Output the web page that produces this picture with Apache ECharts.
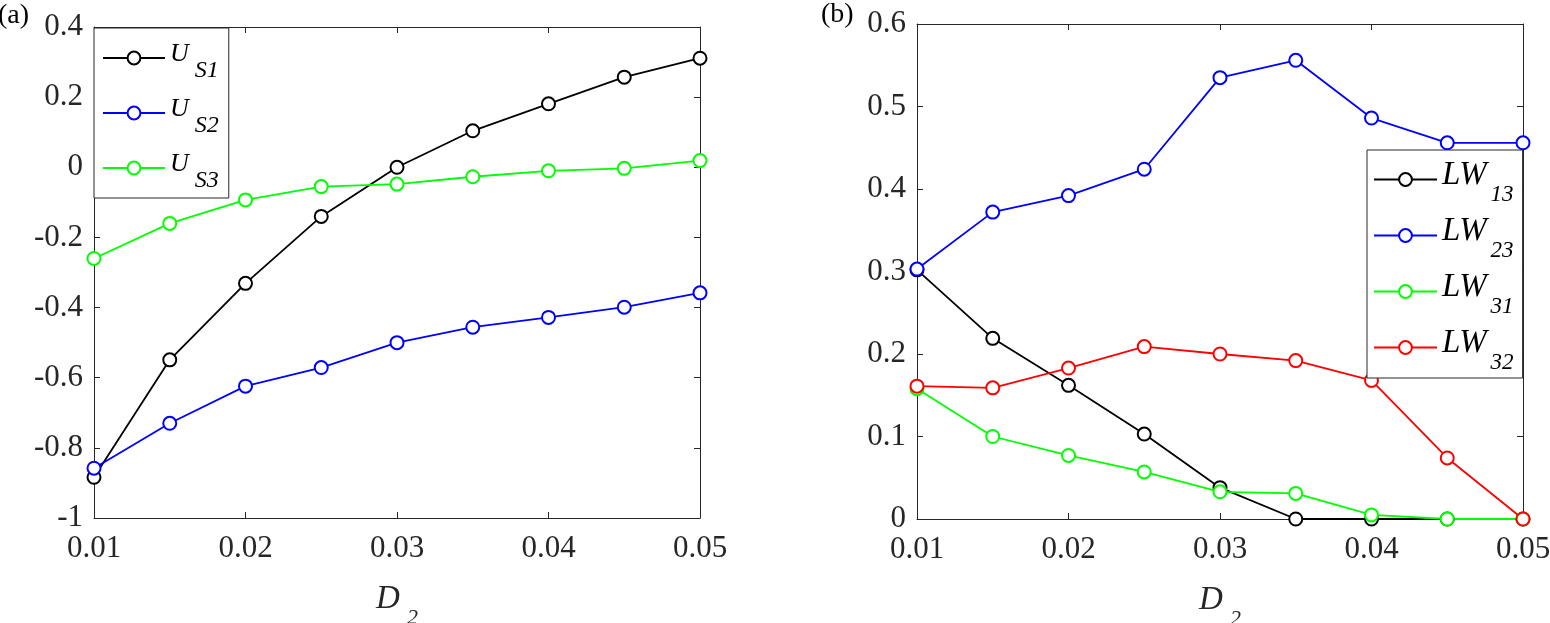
<!DOCTYPE html>
<html>
<head>
<meta charset="utf-8">
<script src="https://cdn.jsdelivr.net/npm/echarts@6/dist/echarts.min.js"></script>
<style>
  html, body { margin: 0; padding: 0; background: #fff; }
  #main { width: 1550px; height: 623px; }
</style>
</head>
<body>
<div id="main"></div>
<script>
// x values (D_2), shared by both panels
const d2 = [0.01, 0.015, 0.02, 0.025, 0.03, 0.035, 0.04, 0.045, 0.05];

// panel (a)
const us1 = [-0.884, -0.549, -0.331, -0.14, 0.0, 0.104, 0.181, 0.257, 0.311];
const us2 = [-0.858, -0.730, -0.624, -0.571, -0.500, -0.456, -0.428, -0.399, -0.358];
const us3 = [-0.260, -0.160, -0.093, -0.055, -0.048, -0.027, -0.010, -0.003, 0.019];

// panel (b)
const lw13 = [0.302, 0.219, 0.162, 0.103, 0.038, 0.0, 0.0, 0.0, 0.0];
const lw23 = [0.303, 0.372, 0.392, 0.424, 0.535, 0.556, 0.486, 0.456, 0.456];
const lw31 = [0.158, 0.100, 0.077, 0.057, 0.033, 0.031, 0.005, 0.0, 0.0];
const lw32 = [0.161, 0.159, 0.183, 0.209, 0.200, 0.192, 0.168, 0.074, 0.0];

const xTicks = { min: 0.01, max: 0.05, interval: 0.01 };
const yTicksA = { min: -1, max: 0.4, interval: 0.2 };
const yTicksB = { min: 0, max: 0.6, interval: 0.1 };

const namesA = { US1: "S1", US2: "S2", US3: "S3" };
const namesB = { LW13: "13", LW23: "23", LW31: "31", LW32: "32" };

const FONT = "Liberation Serif";
const AX = "#262626";

const pairs = (ys) => d2.map((x, i) => [x, ys[i]]);
const fmt = (v) => String(+v.toFixed(2));

function makeSeries(name, ys, color, xi, yi) {
  return {
    name: name,
    type: "line",
    xAxisIndex: xi,
    yAxisIndex: yi,
    data: pairs(ys),
    symbol: "emptyCircle",
    symbolSize: 13,
    clip: false,
    animation: false,
    lineStyle: { color: color, width: 1.8 },
    itemStyle: { color: color, borderColor: color, borderWidth: 1.8 },
  };
}

function axisPair(grid, range, showLabels, pos) {
  // main axis with labels + mirrored axis (MATLAB box style)
  const base = {
    type: "value",
    gridIndex: grid,
    min: range.min,
    max: range.max,
    interval: range.interval,
    axisLine: { show: true, onZero: false, lineStyle: { color: AX, width: 1 } },
    axisTick: { show: true, inside: true, length: 6, lineStyle: { color: AX } },
    splitLine: { show: false },
  };
  return [
    Object.assign({}, base, { position: pos[0], axisLabel: showLabels }),
    Object.assign({}, base, { position: pos[1], axisLabel: { show: false } }),
  ];
}

const xLabel = { show: true, margin: 15, fontFamily: FONT, fontSize: 31, color: AX, formatter: fmt };
const yLabel = { show: true, margin: 11, fontFamily: FONT, fontSize: 31, color: AX, formatter: fmt };

const xNameStyle = {
  rich: {
    d: { fontFamily: FONT, fontSize: 33, fontStyle: "italic", color: AX, lineHeight: 33 },
    s: { fontFamily: FONT, fontSize: 22, fontStyle: "italic", color: AX, lineHeight: 22, padding: [38, 0, 0, 7] },
  },
};

const xa = axisPair(0, xTicks, xLabel, ["bottom", "top"]);
const xb = axisPair(1, xTicks, xLabel, ["bottom", "top"]);
xa[0].name = "{d|D}{s|2}";
xb[0].name = "{d|D}{s|2}";
[xa[0], xb[0]].forEach((a) => {
  a.nameLocation = "middle";
  a.nameGap = 41;
  a.nameTextStyle = xNameStyle;
});

const ya = axisPair(0, yTicksA, yLabel, ["left", "right"]);
const yb = axisPair(1, yTicksB, yLabel, ["left", "right"]);

const myChart = echarts.init(document.getElementById("main"));

const option = {
  backgroundColor: "#fff",
  animation: false,
  title: [
    { text: "(a)", left: -2, top: 2, padding: 0, textStyle: { fontFamily: FONT, fontSize: 28, fontWeight: "normal", color: "#000" } },
    { text: "(b)", left: 821, top: 1, padding: 0, textStyle: { fontFamily: FONT, fontSize: 28, fontWeight: "normal", color: "#000" } },
  ],
  grid: [
    { left: 94, top: 27, width: 606, height: 491, outerBoundsMode: "none" },
    { left: 917, top: 24, width: 606, height: 495, outerBoundsMode: "none" },
  ],
  xAxis: [xa[0], xa[1], xb[0], xb[1]].map((a, i) => Object.assign(a, { gridIndex: i < 2 ? 0 : 1 })),
  yAxis: [ya[0], ya[1], yb[0], yb[1]].map((a, i) => Object.assign(a, { gridIndex: i < 2 ? 0 : 1 })),
  legend: [
    {
      data: Object.keys(namesA),
      orient: "vertical",
      left: 94,
      top: 28,
      padding: [5, 10, 5, 8],
      itemWidth: 62,
      itemHeight: 16,
      itemGap: 5,
      backgroundColor: "#fff",
      borderColor: AX,
      borderWidth: 1,
      formatter: (n) => "{u|U}{s|" + namesA[n] + "}",
      textStyle: {
        rich: {
          u: { fontFamily: FONT, fontSize: 26, fontStyle: "italic", color: "#000", lineHeight: 26, padding: [0, 0, 8, 0] },
          s: { fontFamily: FONT, fontSize: 24, fontStyle: "italic", color: "#000", lineHeight: 24, padding: [26, 0, 0, 6] },
        },
      },
    },
    {
      data: Object.keys(namesB),
      orient: "vertical",
      left: 1367,
      top: 150,
      padding: [3, 9, 4, 6],
      itemWidth: 63,
      itemHeight: 16,
      itemGap: 3,
      backgroundColor: "#fff",
      borderColor: AX,
      borderWidth: 1,
      formatter: (n) => "{u|LW}{s|" + namesB[n] + "}",
      textStyle: {
        rich: {
          u: { fontFamily: FONT, fontSize: 33, fontStyle: "italic", color: "#000", lineHeight: 33, padding: [0, 0, 9, 0] },
          s: { fontFamily: FONT, fontSize: 23, fontStyle: "italic", color: "#000", lineHeight: 23, padding: [30, 0, 0, 4] },
        },
      },
    },
  ],
  series: [
    makeSeries("US1", us1, "#000000", 0, 0),
    makeSeries("US2", us2, "#0000ff", 0, 0),
    makeSeries("US3", us3, "#00ff00", 0, 0),
    makeSeries("LW13", lw13, "#000000", 2, 2),
    makeSeries("LW23", lw23, "#0000ff", 2, 2),
    makeSeries("LW31", lw31, "#00ff00", 2, 2),
    makeSeries("LW32", lw32, "#ff0000", 2, 2),
  ],
};

option && myChart.setOption(option);
</script>
</body>
</html>
